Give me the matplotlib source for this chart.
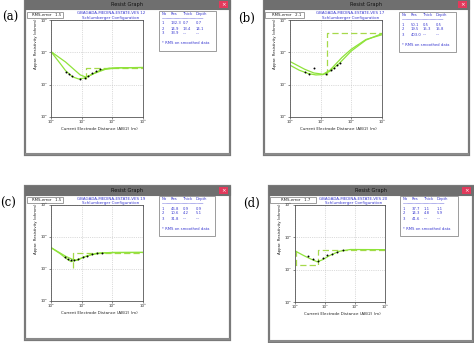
import matplotlib
matplotlib.use('Agg')
import matplotlib.pyplot as plt
from matplotlib.patches import Rectangle

W, H = 474, 343

# sounding data, one set of arrays per VES
a_ves, a_rms = 12, 1.5
a_res = [132.3, 14.9, 33.9]
a_thick = [0.7, 13.4]
a_depth = [0.7, 14.1]
a_obs_x = [3.1, 3.9, 5.0, 8.9, 12.9, 16.6, 22.5, 29.6, 40.0]
a_obs_y = [25, 21, 18, 15.5, 16.6, 18, 22.4, 26, 31]
a_calc_x = [1, 2, 3, 5, 8, 12, 20, 40, 80, 200, 1000]
a_calc_y = [105, 45, 27, 17.5, 15, 16, 20, 28, 32.5, 33.5, 33.9]
a_smooth_x = [1, 3, 6, 9, 14, 25, 60, 150, 1000]
a_smooth_y = [105, 50, 28, 20, 17, 22, 30, 33, 34]

b_ves, b_rms = 17, 2.1
b_res = [50.1, 19.5, 403.0]
b_thick = [0.5, 15.3]
b_depth = [0.5, 15.8]
b_obs_x = [3.1, 4.3, 6.2, 15, 21, 27.5, 34, 43]
b_obs_y = [24, 22, 32, 21, 28, 33, 40, 48]
b_calc_x = [1, 2, 4, 7, 12, 20, 40, 100, 300, 1000]
b_calc_y = [40, 28, 22, 20, 20.5, 26, 45, 110, 240, 380]
b_smooth_x = [1, 3, 6, 12, 20, 50, 100, 300, 1000]
b_smooth_y = [52, 30, 23, 21, 28, 70, 125, 250, 350]

c_ves, c_rms = 19, 1.5
c_res = [46.8, 10.6, 31.8]
c_thick = [0.9, 4.2]
c_depth = [0.9, 5.1]
c_obs_x = [2.9, 3.7, 4.5, 5.6, 7.8, 10.9, 14.7, 21, 31, 45]
c_obs_y = [24.5, 21, 19, 18.5, 21, 23, 26, 29, 31, 32]
c_calc_x = [1, 2, 3, 4.5, 6, 10, 20, 50, 100, 1000]
c_calc_y = [46.6, 30, 22, 17, 18.5, 22, 28, 32, 32.5, 33]
c_smooth_x = [1, 3, 5, 7, 12, 30, 100, 1000]
c_smooth_y = [46.6, 25, 20, 18.5, 24, 31, 33, 33]

d_ves, d_rms = 20, 1.7
d_res = [37.7, 14.3, 41.6]
d_thick = [1.1, 4.8]
d_depth = [1.1, 5.9]
d_obs_x = [2.8, 3.9, 5.7, 8.4, 12, 17.6, 25.8, 38.7]
d_obs_y = [27, 22, 18.6, 22.7, 27.5, 31.6, 36, 40]
d_calc_x = [1, 2, 3.5, 5.5, 8, 15, 30, 70, 1000]
d_calc_y = [38, 27, 21, 17.5, 20, 28, 37, 42, 41.6]

decades = [1, 10, 100, 1000]
decade_labels = ['10⁰', '10¹', '10²', '10³']

GREEN = '#8fe33a'
DASH = '#a6d94a'
BLUE = '#3838d0'


def frac(x0, y0, x1, y1):
    return [x0 / W, 1 - y1 / H, (x1 - x0) / W, (y1 - y0) / H]


def draw_window(bg, win):
    x0, y0, x1, y1 = win
    bg.add_patch(Rectangle((x0, y0), x1 - x0, y1 - y0, fc='white', ec='#7a7a7a', lw=1.6))
    bg.add_patch(Rectangle((x0, y0), x1 - x0, 9, fc='#6f6f6f', ec='#6f6f6f', lw=0.8))
    bg.text((x0 + x1) / 2, y0 + 4.8, 'Resist Graph', fontsize=3.6, color='#111111',
            ha='center', va='center')
    bg.add_patch(Rectangle((x1 - 11, y0 + 1), 9, 6.5, fc='#e23a5c', ec='none'))
    bg.text(x1 - 6.5, y0 + 4.3, '×', fontsize=4, color='white', ha='center', va='center')
    bg.plot([x0 + 1, x1 - 1], [y1 - 1.5, y1 - 1.5], color='#8a8a8a', lw=1.5)


def draw_panel(fig, bg, p):
    draw_window(bg, p['win'])
    ax0, ay0, ax1, ay1 = p['axes']
    bg.text(*p['tag_xy'], p['tag'], fontsize=8.5, family='DejaVu Serif', ha='center', va='center')

    # rms box
    rx0, ry0, rx1, ry1 = p['rms_box']
    bg.add_patch(Rectangle((rx0, ry0), rx1 - rx0, ry1 - ry0, fc='white', ec='#777777', lw=0.5))
    bg.text(rx0 + 0.55 * (rx1 - rx0), (ry0 + ry1) / 2, f"RMS-error   {p['rms']}", fontsize=2.8,
            ha='center', va='center', color='#222222')

    # title block
    tx0, ty0, tx1, ty1 = p['title_box']
    bg.text((tx0 + tx1) / 2, ty0 + 2.5, f"GBAGADA-MEDINA-ESTATE-VES {p['ves']}", fontsize=2.9,
            color=BLUE, ha='center', va='center')
    bg.text((tx0 + tx1) / 2, ty0 + 7.3, 'Schlumberger Configuration', fontsize=2.9,
            color=BLUE, ha='center', va='center')
    bg.plot([tx0, tx1], [ty1, ty1], color=BLUE, lw=0.5)

    # layer table
    bx0, by0, bx1, by1 = p['table']
    bg.add_patch(Rectangle((bx0, by0), bx1 - bx0, by1 - by0, fc='white', ec='#8c8c8c', lw=0.6))
    cols = [bx0 + 3, bx0 + 12, bx0 + 24, bx0 + 37]
    for cx, h in zip(cols, ['No', 'Res', 'Thick', 'Depth']):
        bg.text(cx, by0 + 3, h, fontsize=2.7, color=BLUE, va='center')
    bg.plot([bx0 + 3, bx0 + 44], [by0 + 6.5, by0 + 6.5], color=BLUE, lw=0.4, ls=(0, (1, 0.6)))
    res, thick, depth = p['res'], p['thick'], p['depth']
    for i in range(len(res)):
        row = [str(i + 1), f'{res[i]:.1f}']
        if i < len(thick):
            row += [f'{thick[i]:.1f}', f'{depth[i]:.1f}']
        else:
            row += ['---', '---']
        for cx, t in zip(cols, row):
            bg.text(cx, by0 + 12.5 + 5 * i, t, fontsize=2.7, color=BLUE, va='center')
    bg.text(bx0 + 3, by0 + 32.5, '* RMS on smoothed data', fontsize=2.7, color=BLUE, va='center')

    ax = fig.add_axes(frac(ax0, ay0, ax1, ay1))
    ax.set_xscale('log')
    ax.set_yscale('log')
    ax.set_xlim(1, 1000)
    ax.set_ylim(1, 1000)
    ax.grid(True, which='major', color='#bbbbbb', ls=':', lw=0.5)
    ax.minorticks_off()
    ax.tick_params(length=1.5, width=0.4, labelsize=3.0, pad=1.0, colors='#333333')
    ax.set_xticks(decades)
    ax.set_yticks(decades)
    ax.set_xticklabels(decade_labels)
    ax.set_yticklabels(decade_labels)
    for s in ax.spines.values():
        s.set_color('#555555')
        s.set_linewidth(0.6)

    # layered model as a dashed step
    if p.get('full_step'):
        sx = [1, depth[0], depth[0], depth[1], depth[1], 1000]
        sy = [res[0], res[0], res[1], res[1], res[2], res[2]]
    else:
        sx = [depth[1], depth[1], 1000]
        sy = [res[1], res[2], res[2]]
    ax.plot(sx, sy, color=DASH, lw=0.9, ls=(0, (5, 2.5)))
    ax.plot(p['calc_x'], p['calc_y'], color=GREEN, lw=0.9)
    if p.get('smooth_x'):
        ax.plot(p['smooth_x'], p['smooth_y'], color=GREEN, lw=0.9)
    ax.plot(p['obs_x'], p['obs_y'], 'o', color='black', ms=1.4, mew=0)

    bg.text(ax0 - 15, ay0 + 24, 'Appar. Resistivity (ohmm)', fontsize=2.8, rotation=90,
            ha='center', va='center', color='#222222')
    bg.text((ax0 + ax1) / 2 + 2, ay1 + 12, 'Current Electrode Distance (AB/2) (m)', fontsize=2.9,
            ha='center', va='center', color='#222222')


panels = [
    dict(tag='(a)', tag_xy=(10, 17), win=(25, 0, 230, 155), axes=(51, 20, 143, 117),
         rms_box=(27, 12, 63, 18), title_box=(79, 11, 143, 21), table=(159, 11, 216, 51),
         ves=a_ves, rms=a_rms, res=a_res, thick=a_thick, depth=a_depth,
         obs_x=a_obs_x, obs_y=a_obs_y, calc_x=a_calc_x, calc_y=a_calc_y,
         smooth_x=a_smooth_x, smooth_y=a_smooth_y),
    dict(tag='(b)', tag_xy=(247, 18), win=(264, 0, 469, 155), axes=(290, 20, 382, 117),
         rms_box=(265, 12, 304, 18), title_box=(319, 11, 382, 21), table=(399, 12, 456, 52),
         ves=b_ves, rms=b_rms, res=b_res, thick=b_thick, depth=b_depth,
         obs_x=b_obs_x, obs_y=b_obs_y, calc_x=b_calc_x, calc_y=b_calc_y,
         smooth_x=b_smooth_x, smooth_y=b_smooth_y),
    dict(tag='(c)', tag_xy=(8, 203), win=(25, 186, 230, 340), axes=(51, 205, 143, 301),
         rms_box=(27, 197, 63, 203), title_box=(79, 196, 143, 206), table=(159, 196, 215, 236),
         ves=c_ves, rms=c_rms, res=c_res, thick=c_thick, depth=c_depth,
         obs_x=c_obs_x, obs_y=c_obs_y, calc_x=c_calc_x, calc_y=c_calc_y,
         smooth_x=c_smooth_x, smooth_y=c_smooth_y),
    dict(tag='(d)', tag_xy=(252, 203), win=(269, 186, 473, 342), axes=(295, 205, 385, 302),
         rms_box=(270, 197, 316, 203), title_box=(322, 196, 385, 206), table=(400, 196, 458, 236),
         ves=d_ves, rms=d_rms, res=d_res, thick=d_thick, depth=d_depth, full_step=True,
         obs_x=d_obs_x, obs_y=d_obs_y, calc_x=d_calc_x, calc_y=d_calc_y),
]

fig = plt.figure(figsize=(W / 100, H / 100), dpi=100)
bg = fig.add_axes([0, 0, 1, 1])
bg.set_xlim(0, W)
bg.set_ylim(H, 0)
bg.axis('off')

for p in panels:
    draw_panel(fig, bg, p)

fig.savefig('out.png', dpi=100)
